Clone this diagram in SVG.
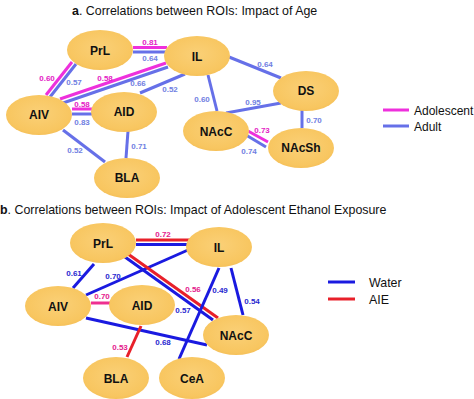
<svg xmlns="http://www.w3.org/2000/svg" width="474" height="399" viewBox="0 0 474 399">
<defs>
<radialGradient id="g" cx="50%" cy="45%" r="60%">
<stop offset="0" stop-color="#FAD077"/>
<stop offset="0.8" stop-color="#F8C660"/>
<stop offset="1" stop-color="#F4BD55"/>
</radialGradient>
<style>
text{font-family:"Liberation Sans",Arial,sans-serif}
.t{font-size:12.4px;fill:#111}
.lg{font-size:12px;fill:#111}
.n ellipse{fill:url(#g)}
.n text{font-size:12px;font-weight:bold;fill:#111;text-anchor:middle}
.l{font-size:8px;font-weight:bold;text-anchor:middle}
.ab{stroke:#6670e8;stroke-width:3;fill:none}
.am{stroke:#ee30dc;stroke-width:3;fill:none}
.bb{stroke:#1a1ae0;stroke-width:3;fill:none}
.br{stroke:#e8202a;stroke-width:3;fill:none}
.bp{stroke:#ee3090;stroke-width:3;fill:none}
.lab{fill:#7080e2}
.lam{fill:#e41cc4}
.lbb{fill:#2828d0}
.lbm{fill:#e4208c}
</style>
</defs>
<rect width="474" height="399" fill="#fff"/>
<text class="t" x="72" y="15"><tspan font-weight="bold">a</tspan>. Correlations between ROIs: Impact of Age</text>
<text class="t" x="0" y="214"><tspan font-weight="bold">b</tspan>. Correlations between ROIs: Impact of Adolescent Ethanol Exposure</text>

<g id="connectors">
<!-- part a -->
<line class="am" x1="133" y1="47.5" x2="167" y2="47.5"/>
<line class="ab" x1="133" y1="52" x2="167" y2="52"/>
<line class="am" x1="72" y1="62" x2="46" y2="95"/>
<line class="ab" x1="76" y1="64" x2="50" y2="97"/>
<line class="am" x1="166" y1="63" x2="60" y2="99"/>
<line class="ab" x1="168" y1="67" x2="63" y2="103"/>
<line class="am" x1="72" y1="109" x2="92" y2="109"/>
<line class="ab" x1="72" y1="114" x2="92" y2="114"/>
<line class="ab" x1="185" y1="74" x2="140" y2="93"/>
<line class="ab" x1="63" y1="130" x2="105" y2="162"/>
<line class="ab" x1="128" y1="131" x2="126" y2="158"/>
<line class="ab" x1="208" y1="75" x2="217" y2="111"/>
<line class="ab" x1="229" y1="57" x2="281" y2="78"/>
<line class="ab" stroke-width="6" x1="226" y1="113" x2="281" y2="103"/>
<line class="ab" x1="302" y1="110" x2="302" y2="128"/>
<line class="am" x1="248" y1="131" x2="268" y2="142"/>
<line class="ab" x1="246" y1="135" x2="266" y2="147"/>
<!-- part b -->
<line class="br" x1="136" y1="240" x2="190" y2="240"/>
<line class="bb" x1="136" y1="244.5" x2="190" y2="244.5"/>
<line class="bb" x1="94" y1="264" x2="73" y2="288"/>
<line class="bb" x1="188" y1="250" x2="86" y2="295"/>
<line class="br" x1="128" y1="254" x2="218" y2="318"/>
<line class="bb" x1="125" y1="257" x2="213" y2="320"/>
<line class="bb" x1="219" y1="268" x2="179" y2="359"/>
<line class="bb" x1="231" y1="268" x2="243" y2="315"/>
<line class="bp" x1="91" y1="303" x2="110" y2="303"/>
<line class="bb" x1="86" y1="318" x2="207" y2="345"/>
<line class="br" x1="141" y1="326" x2="127" y2="357"/>
</g>

<g id="labels">
<text class="l lam" x="150" y="45">0.81</text>
<text class="l lab" x="150" y="61">0.64</text>
<text class="l lam" x="47" y="81">0.60</text>
<text class="l lab" x="74" y="85">0.57</text>
<text class="l lam" x="105" y="81">0.58</text>
<text class="l lab" x="138" y="86">0.66</text>
<text class="l lab" x="170" y="92">0.52</text>
<text class="l lam" x="82" y="107">0.58</text>
<text class="l lab" x="82" y="125">0.83</text>
<text class="l lab" x="75" y="153">0.52</text>
<text class="l lab" x="139" y="149">0.71</text>
<text class="l lab" x="202" y="102">0.60</text>
<text class="l lab" x="265" y="67">0.64</text>
<text class="l lab" x="253" y="105">0.95</text>
<text class="l lab" x="314" y="123">0.70</text>
<text class="l lam" x="262" y="133">0.73</text>
<text class="l lab" x="249" y="154">0.74</text>

<text class="l lbm" x="163" y="237">0.72</text>
<text class="l lbb" x="74" y="276">0.61</text>
<text class="l lbb" x="113" y="279">0.70</text>
<text class="l lbm" x="102" y="299">0.70</text>
<text class="l lbm" x="193" y="292">0.56</text>
<text class="l lbb" x="183" y="313">0.57</text>
<text class="l lbb" x="220" y="293">0.49</text>
<text class="l lbb" x="252" y="304">0.54</text>
<text class="l lbb" x="163" y="345">0.68</text>
<text class="l lbm" x="120" y="350">0.53</text>
</g>

<g id="a-PrL" class="n"><ellipse cx="100" cy="50" rx="33" ry="20"/><text x="100" y="55">PrL</text></g>
<g id="a-IL" class="n"><ellipse cx="197" cy="56" rx="33" ry="20"/><text x="197" y="61">IL</text></g>
<g id="a-AIV" class="n"><ellipse cx="39" cy="115" rx="33" ry="20"/><text x="39" y="119">AIV</text></g>
<g id="a-AID" class="n"><ellipse cx="124" cy="112" rx="33" ry="20"/><text x="124" y="116">AID</text></g>
<g id="a-BLA" class="n"><ellipse cx="127" cy="178" rx="33" ry="20"/><text x="127" y="182">BLA</text></g>
<g id="a-DS" class="n"><ellipse cx="306" cy="91" rx="33" ry="20"/><text x="306" y="95">DS</text></g>
<g id="a-NAcC" class="n"><ellipse cx="216" cy="131" rx="33" ry="20"/><text x="216" y="136">NAcC</text></g>
<g id="a-NAcSh" class="n"><ellipse cx="301" cy="148" rx="33" ry="20"/><text x="301" y="152">NAcSh</text></g>

<g id="b-PrL" class="n"><ellipse cx="103" cy="243" rx="33" ry="20"/><text x="103" y="248">PrL</text></g>
<g id="b-IL" class="n"><ellipse cx="219" cy="247" rx="33" ry="20"/><text x="219" y="252">IL</text></g>
<g id="b-AIV" class="n"><ellipse cx="58" cy="306" rx="33" ry="20"/><text x="58" y="311">AIV</text></g>
<g id="b-AID" class="n"><ellipse cx="142" cy="305" rx="33" ry="20"/><text x="142" y="310">AID</text></g>
<g id="b-NAcC" class="n"><ellipse cx="236" cy="335" rx="33" ry="20"/><text x="236" y="340">NAcC</text></g>
<g id="b-BLA" class="n"><ellipse cx="116" cy="378" rx="33" ry="21"/><text x="116" y="383">BLA</text></g>
<g id="b-CeA" class="n"><ellipse cx="192" cy="378" rx="33" ry="21"/><text x="192" y="383">CeA</text></g>

<g id="legend-a">
<line class="am" x1="383" y1="110" x2="409" y2="110"/>
<text class="lg" x="414" y="114.5">Adolescent</text>
<line class="ab" x1="383" y1="126" x2="409" y2="126"/>
<text class="lg" x="414" y="130.5">Adult</text>
</g>
<g id="legend-b">
<line class="bb" x1="328" y1="282" x2="355" y2="282"/>
<text class="t" x="369" y="287">Water</text>
<line class="br" x1="328" y1="299" x2="355" y2="299"/>
<text class="t" x="369" y="304">AIE</text>
</g>
</svg>
